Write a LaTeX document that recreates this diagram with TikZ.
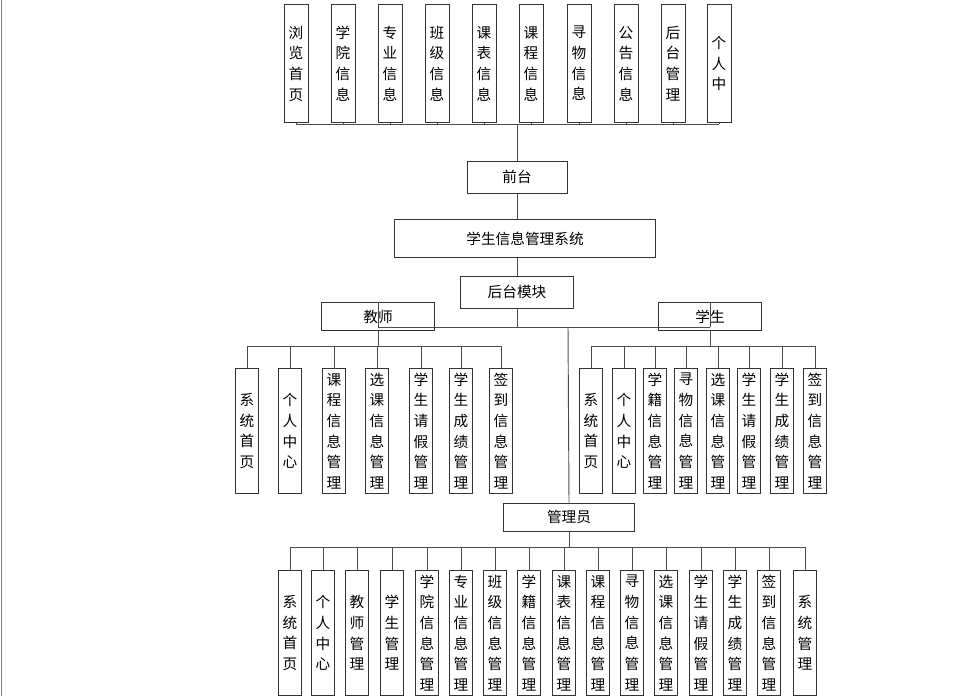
\documentclass[tikz,border=0pt]{standalone}
\usepackage{fontspec}
\setmainfont{Noto Sans CJK SC}
\begin{document}
\begin{tikzpicture}[x=0.75pt,y=-0.75pt,
  bx/.style={draw=black!80,line width=0.7pt,inner sep=0pt,font=\fontsize{11}{15.5}\selectfont,align=center},
  hb/.style={bx,minimum height=24pt},
  vb/.style={bx,minimum width=17pt,minimum height=89pt},
  vt/.style={bx,minimum width=18pt,minimum height=89pt},
  vc/.style={bx,minimum width=17pt,minimum height=94pt},
  ln/.style={draw=black!70,line width=0.7pt}]
\useasboundingbox (0,0) rectangle (955,696);
\draw[black!50] (1,0)--(1,696);
% top
\foreach \x/\t [count=\i] in {296/浏\\览\\首\\页,343/学\\院\\信\\息,390/专\\业\\信\\息,437/班\\级\\信\\息,484/课\\表\\信\\息,531/课\\程\\信\\息,579/寻\\物\\信\\息,626/公\\告\\信\\息,673/后\\台\\管\\理,719/个\\人\\中}
  {\node[vt] (t\i) at (\x,63.5) {\t};
   \draw[ln] (t\i.south)--(\x,124);}
\draw[ln] (296,124)--(719,124);
\node[hb,minimum width=75pt,minimum height=24pt] (qt) at (517,177) {前台};
\node[hb,minimum width=196pt,minimum height=29pt] (sys) at (525,238.5) {学生信息管理系统};
\node[hb,minimum width=85pt,minimum height=24pt] (ht) at (517,292) {后台模块};
\draw[ln] (517,124)--(qt.north);
\draw[ln] (qt.south)--(517,219);
\draw[ln] (517,258)--(ht.north);
\draw[ln] (ht.south)--(517,327);
\draw[ln] (378,327)--(710,327);
\node[hb,minimum width=85pt,minimum height=21pt] (js) at (378,316.5) {教师};
\node[hb,minimum width=77pt,minimum height=21pt] (xs) at (710,316.5) {学生};
\draw[ln] (378,327)--(js.north);
\draw[ln] (710,327)--(xs.north);
\node[hb,minimum width=98pt,minimum height=21pt] (gly) at (569,517) {管理员};
\draw[ln] (568,327)--(gly.north);
% teacher
\draw[ln] (js.south)--(378,346);
\draw[ln] (247,346)--(502,346);
\foreach \x/\t [count=\i] in {247/系\\统\\首\\页,290/个\\人\\中\\心,334/课\\程\\信\\息\\管\\理,377/选\\课\\信\\息\\管\\理,421/学\\生\\请\\假\\管\\理,461/学\\生\\成\\绩\\管\\理,501/签\\到\\信\\息\\管\\理}
  {\node[vc] (a\i) at (\x,431) {\t};
   \draw[ln] (\x,346)--(a\i.north);}
% student
\draw[ln] (xs.south)--(710,346);
\draw[ln] (591,346)--(815,346);
\foreach \x/\t [count=\i] in {591/系\\统\\首\\页,624/个\\人\\中\\心,655/学\\籍\\信\\息\\管\\理,686/寻\\物\\信\\息\\管\\理,718/选\\课\\信\\息\\管\\理,749/学\\生\\请\\假\\管\\理,782/学\\生\\成\\绩\\管\\理,815/签\\到\\信\\息\\管\\理}
  {\node[vc] (b\i) at (\x,431) {\t};
   \draw[ln] (\x,346)--(b\i.north);}
% admin
\draw[ln] (gly.south)--(569,547);
\draw[ln] (290,547)--(805,547);
\foreach \x/\t [count=\i] in {290/系\\统\\首\\页,323/个\\人\\中\\心,357/教\\师\\管\\理,392/学\\生\\管\\理,427/学\\院\\信\\息\\管\\理,461/专\\业\\信\\息\\管\\理,495/班\\级\\信\\息\\管\\理,529/学\\籍\\信\\息\\管\\理,564/课\\表\\信\\息\\管\\理,598/课\\程\\信\\息\\管\\理,632/寻\\物\\信\\息\\管\\理,666/选\\课\\信\\息\\管\\理,701/学\\生\\请\\假\\管\\理,735/学\\生\\成\\绩\\管\\理,769/签\\到\\信\\息\\管\\理,805/系\\统\\管\\理}
  {\node[vc,minimum height=94pt] (c\i) at (\x,633) {\t};
   \draw[ln] (\x,547)--(c\i.north);}
\end{tikzpicture}
\end{document}
